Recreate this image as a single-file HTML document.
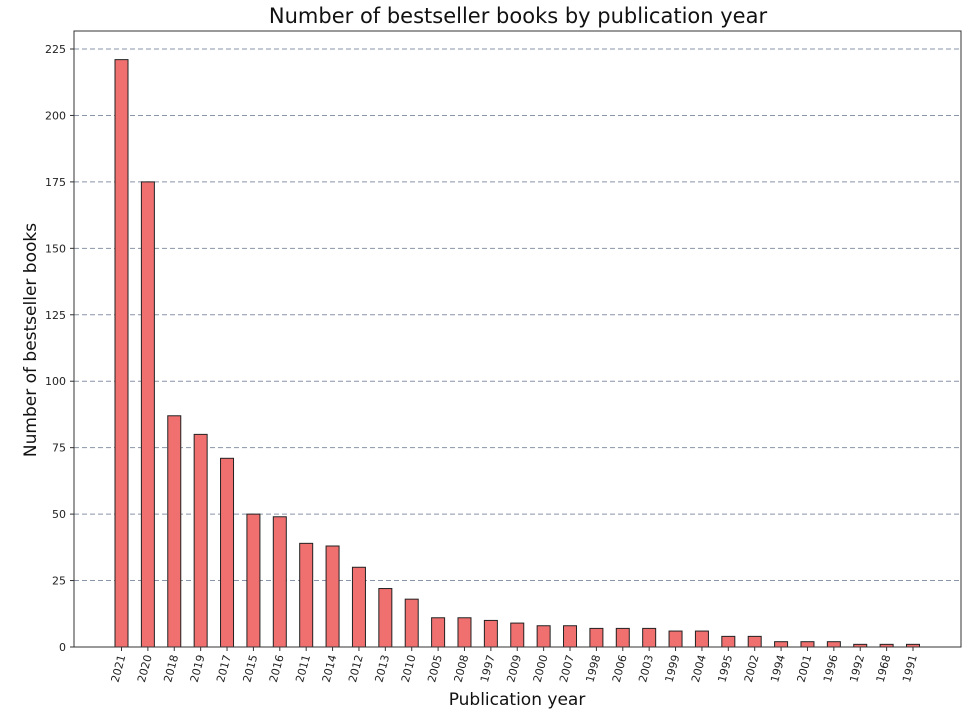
<!DOCTYPE html>
<html><head><meta charset="utf-8"><style>
body{margin:0;background:#fff;font-family:"DejaVu Sans","Liberation Sans",sans-serif;}
svg text{font-family:"DejaVu Sans","Liberation Sans",sans-serif;}
</style></head><body>
<svg id="chart" width="973" height="713" xmlns="http://www.w3.org/2000/svg">
<rect x="0" y="0" width="973" height="713" fill="#fff"/>
<g id="grid"></g>
<g id="bars"></g>
<rect x="74" y="31" width="887" height="616" fill="none" stroke="#333" stroke-width="1"/>
<g id="yticks"></g>
<g id="xticks"></g>
<text x="518" y="23" font-size="21" text-anchor="middle" fill="#111">Number of bestseller books by publication year</text>
<text x="517" y="705" font-size="17" text-anchor="middle" fill="#111">Publication year</text>
<text transform="translate(36,340) rotate(-90)" font-size="17" text-anchor="middle" fill="#111">Number of bestseller books</text>
</svg>
<script>
const categories=["2021","2020","2018","2019","2017","2015","2016","2011","2014","2012","2013","2010","2005","2008","1997","2009","2000","2007","1998","2006","2003","1999","2004","1995","2002","1994","2001","1996","1992","1968","1991"];
const values=[221,175,87,80,71,50,49,39,38,30,22,18,11,11,10,9,8,8,7,7,7,6,6,4,4,2,2,2,1,1,1];
const yTicks=[0,25,50,75,100,125,150,175,200,225];
const NS="http://www.w3.org/2000/svg";
const y0=647,yScale=(647-49)/225;
function yPos(v){return y0-v*yScale;}
function xPos(i){return 121.5+i*(913-121.5)/(categories.length-1);}
const bw=13;
function mk(t,a,p){const e=document.createElementNS(NS,t);for(const k in a)e.setAttribute(k,a[k]);p.appendChild(e);return e;}
const grid=document.getElementById('grid'),bars=document.getElementById('bars'),yt=document.getElementById('yticks'),xt=document.getElementById('xticks');
yTicks.forEach(v=>{
  const y=yPos(v);
  if(v>0){const g=mk('line',{x1:74,x2:961,y1:y,y2:y,stroke:'#8a94a8','stroke-width':1,'stroke-dasharray':'5,3'},grid);
  
  }
  mk('line',{x1:70,x2:74,y1:y,y2:y,stroke:'#333'},yt);
  const t=mk('text',{x:66,y:y+4,'font-size':11,'text-anchor':'end',fill:'#222'},yt);
  
  
  t.textContent=v;
});
categories.forEach((c,i)=>{
  const x=xPos(i),y=yPos(values[i]);
  const r=mk('rect',{x:x-bw/2,y:y,width:bw,height:y0-y,fill:'#f07070',stroke:'#222','stroke-width':1},bars);
  
  
  mk('line',{x1:x,x2:x,y1:647,y2:651,stroke:'#333'},xt);
  const t=mk('text',{transform:`translate(${x+4},${656}) rotate(-75)`,'font-size':11,'text-anchor':'end',fill:'#222'},xt);
  
  
  t.textContent=c;
});
</script>
</body></html>
